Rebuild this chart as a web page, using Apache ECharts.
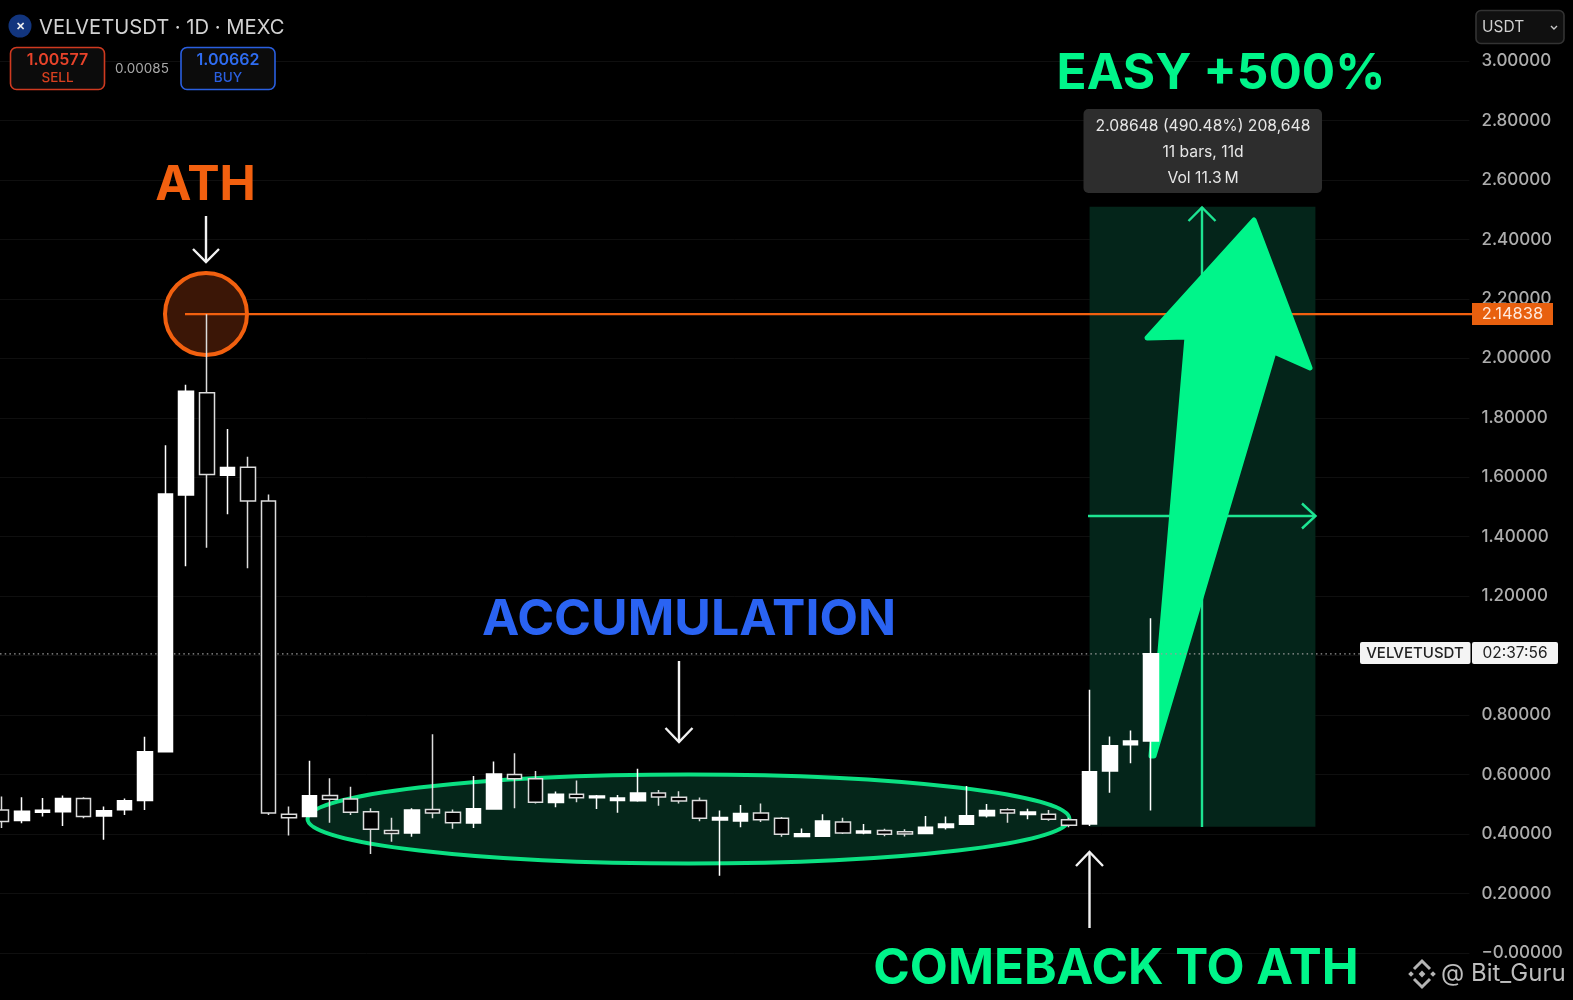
<!DOCTYPE html>
<html>
<head>
<meta charset="utf-8">
<style>html,body{margin:0;padding:0;background:#000;overflow:hidden}#c{width:1573px;height:1000px}</style>
<script src="https://cdn.jsdelivr.net/npm/echarts@6/dist/echarts.min.js"></script>
</head>
<body>
<div id="c"></div>
<script>
var opens  = [.481,.446,.473,.475,.520,.461,.482,.513,.677,1.540,1.884,1.607,1.634,1.520,.467,.459,.530,.518,.475,.412,.404,.483,.473,.437,.484,.600,.586,.506,.534,.522,.513,.512,.538,.524,.513,.447,.444,.471,.453,.392,.393,.441,.404,.412,.408,.402,.422,.433,.462,.482,.466,.467,.448,.434,.612,.700,.713];
var closes = [.442,.477,.480,.520,.459,.478,.512,.677,1.544,1.889,1.609,1.633,1.520,.471,.455,.529,.517,.473,.416,.402,.481,.471,.438,.485,.602,.586,.507,.534,.522,.528,.521,.538,.525,.511,.453,.456,.469,.448,.399,.401,.444,.404,.410,.399,.400,.423,.434,.462,.479,.471,.474,.450,.430,.610,.697,.713,1.0062];
var lows   = [.420,.436,.459,.427,.453,.381,.464,.481,.675,1.301,1.363,1.476,1.294,.464,.395,.458,.438,.464,.333,.374,.391,.453,.418,.420,.484,.487,.503,.490,.507,.484,.472,.509,.495,.503,.443,.260,.423,.441,.391,.391,.391,.400,.399,.393,.392,.400,.415,.433,.456,.438,.450,.445,.423,.427,.539,.638,.479];
var highs  = [.526,.524,.521,.530,.524,.493,.520,.727,1.708,1.911,2.14838,1.762,1.669,1.542,.493,.647,.588,.559,.487,.455,.487,.736,.483,.595,.644,.672,.612,.543,.580,.531,.531,.620,.548,.544,.523,.479,.498,.503,.457,.419,.467,.455,.434,.418,.416,.461,.459,.562,.501,.487,.485,.481,.455,.885,.728,.748,1.126];
var categories = [];
for (var n = 0; n < 72; n++) categories.push('D' + (n + 1));
var tickValues = [0,0.2,0.4,0.6,0.8,1,1.2,1.4,1.6,1.8,2,2.2,2.4,2.6,2.8,3];
var tickLabels = ['\u22120.00000','0.20000','0.40000','0.60000','0.80000','1.00000','1.20000','1.40000','1.60000','1.80000','2.00000','2.20000','2.40000','2.60000','2.80000','3.00000'];
var athPrice = 2.14838;
var lastPrice = 1.0062;
var rangeTop = 2.51, rangeBottom = 0.4248, rangeStart = 53, rangeEnd = 64;

var F = 'Inter, "Liberation Sans", sans-serif';
var GREEN = '#00f58a', LINE = '#1de592', ORANGE = '#f2600f', BLUE = '#2a63f2';
var candles = opens.map(function (o, i) { return [o, closes[i], lows[i], highs[i]]; });

var chart = echarts.init(document.getElementById('c'), null, {renderer: 'canvas'});
chart.setOption({
  backgroundColor: '#000',
  animation: false,
  grid: {left: -8.8, right: 103.6, top: 61, bottom: 47, outerBoundsMode: 'none', containLabel: false},
  xAxis: {type: 'category', data: categories, axisLine: {show: false}, axisTick: {show: false}, axisLabel: {show: false}, splitLine: {show: false}},
  yAxis: {
    type: 'value', position: 'right', min: 0, max: 3, interval: 0.2,
    axisLine: {show: false}, axisTick: {show: false},
    axisLabel: {margin: 12, padding: [4, 0, 0, 0], color: '#adadad', fontFamily: F, fontSize: 17, fontWeight: 500,
      formatter: function (v) { return tickLabels[tickValues.findIndex(function (t) { return Math.abs(t - v) < 1e-6; })]; }},
    splitLine: {lineStyle: {color: '#0f0f0f', width: 1}}
  },
  series: [{
    type: 'candlestick', z: 5, barWidth: 15, data: candles,
    itemStyle: {color: '#ffffff', color0: '#000000', borderColor: '#ffffff', borderColor0: '#dcdcdc', borderWidth: 1.5},
    markArea: {z: 1, silent: true, itemStyle: {color: '#04251a'},
      data: [[{xAxis: categories[rangeStart], yAxis: rangeTop}, {xAxis: categories[rangeEnd], yAxis: rangeBottom}]]}
  }]
});

var Y = function (v) { return chart.convertToPixel({yAxisIndex: 0}, v); };
var yAth = Y(athPrice), yLast = Y(lastPrice);

function txt(x, y, s, size, color, weight, align, z) {
  return {type: 'text', z: z || 20, silent: true, style: {x: x, y: y, text: s, fill: color, fontFamily: F, fontSize: size, fontWeight: weight || 400, align: align || 'center', verticalAlign: 'middle'}};
}
function rect(x, y, w, h, fill, stroke, r, z) {
  return {type: 'rect', z: z || 19, silent: true, shape: {x: x, y: y, width: w, height: h, r: r || 0}, style: {fill: fill, stroke: stroke || null, lineWidth: stroke ? 1.6 : 0}};
}
function pl(points, color, width, z) {
  return {type: 'polyline', z: z || 8, silent: true, shape: {points: points}, style: {stroke: color, lineWidth: width, fill: null, lineJoin: 'miter'}};
}
function diamond(cx, cy, r, fill) {
  return {type: 'polygon', z: 20, silent: true, shape: {points: [[cx, cy - r], [cx + r, cy], [cx, cy + r], [cx - r, cy]]}, style: {fill: fill}};
}
var W = '#f2f2f2';
var gfx = [
  {type: 'ellipse', z: 1, silent: true, shape: {cx: 688.5, cy: 819, rx: 381, ry: 44.5}, style: {fill: '#05261a', stroke: '#0be082', lineWidth: 4}},
  pl([[1202, 207], [1202, 827]], LINE, 2.4, 2),
  pl([[1188.5, 221], [1202, 207.5], [1215.5, 221]], LINE, 2.4, 2),
  pl([[1088, 516], [1315, 516]], LINE, 2.4, 2),
  pl([[1302, 503.5], [1315.5, 516], [1302, 528.5]], LINE, 2.4, 2),
  {type: 'circle', z: 2, silent: true, shape: {cx: 206, cy: 314, r: 41}, style: {fill: '#3b1606', stroke: ORANGE, lineWidth: 4}},
  {type: 'line', z: 2, silent: true, shape: {x1: 185, y1: yAth, x2: 1472, y2: yAth}, style: {stroke: ORANGE, lineWidth: 2.2}},
  {type: 'polygon', z: 3, silent: true, shape: {points: [[1254, 220], [1310, 368], [1274, 352], [1154, 756], [1151, 756], [1187, 337], [1147, 338]]},
    style: {fill: GREEN, stroke: GREEN, lineWidth: 5, lineJoin: 'round'}},
  {type: 'line', z: 4, silent: true, shape: {x1: 0, y1: yLast, x2: 1360, y2: yLast}, style: {stroke: '#9a9a9a', lineWidth: 1.2, lineDash: [1.5, 3.2]}},
  pl([[206, 216], [206, 262]], W, 2.4),
  pl([[193, 249], [206, 262], [219, 249]], W, 2.4),
  pl([[679, 661], [679, 742]], W, 2.4),
  pl([[665.5, 728], [679, 742], [692.5, 728]], W, 2.4),
  pl([[1089.5, 852], [1089.5, 928]], W, 2.4),
  pl([[1076, 866], [1089.5, 852], [1103, 866]], W, 2.4),
  txt(205.5, 185, 'ATH', 48.5, ORANGE, 700),
  txt(1221, 74, 'EASY +500%', 49.5, GREEN, 700),
  txt(689, 620, 'ACCUMULATION', 50, BLUE, 700),
  txt(1116, 969, 'COMEBACK TO ATH', 49.4, GREEN, 700),
  {type: 'circle', z: 19, silent: true, shape: {cx: 20, cy: 26, r: 11.5}, style: {fill: '#12357e'}},
  txt(20.5, 26.5, '\u2715', 11, '#f0f0f0', 700),
  txt(39, 27.5, 'VELVETUSDT \u00b7 1D \u00b7 MEXC', 20.2, '#d2d2d2', 400, 'left'),
  rect(10.5, 47.5, 94, 42, '#0c0c0c', '#cf3a20', 6),
  txt(57.5, 60.5, '1.00577', 16, '#e8432a', 600),
  txt(57.5, 78, 'SELL', 13.5, '#d8401f', 500),
  txt(142, 69, '0.00085', 13.5, '#a8a8a8'),
  rect(181, 47.5, 94, 42, '#0c0c0c', '#2a5fe0', 6),
  txt(228, 60.5, '1.00662', 16, '#2f6cf0', 600),
  txt(228, 78, 'BUY', 13.5, '#2a5fe0', 500),
  rect(1476, 10.5, 88, 33, '#101010', '#333333', 5),
  txt(1482, 27.5, 'USDT', 15.5, '#d0d0d0', 400, 'left'),
  pl([[1551, 26], [1554, 29], [1557, 26]], '#c8c8c8', 1.4, 20),
  rect(1083.5, 109, 238.5, 84, '#2d2d2d', null, 5),
  txt(1203, 126.5, '2.08648 (490.48%) 208,648', 15.7, '#e6e6e6'),
  txt(1203, 152.5, '11 bars, 11d', 15.7, '#e6e6e6'),
  txt(1203, 178.5, 'Vol 11.3\u2009M', 15.7, '#e6e6e6'),
  rect(1472, 303, 81, 22, '#e8600f'),
  txt(1512.5, 314.5, athPrice.toFixed(5), 16.5, '#ffe9dc'),
  rect(1360, 642, 110.5, 22, '#f4f4f4', null, 2),
  txt(1415, 653.5, 'VELVETUSDT', 15, '#222222', 500),
  rect(1472, 642, 86, 22, '#f4f4f4', null, 2),
  txt(1515, 653.5, '02:37:56', 15.5, '#222222', 400),
  diamond(1422, 974, 3.4, '#b4b4b4'),
  diamond(1411, 974, 2.8, '#b4b4b4'),
  diamond(1433, 974, 2.8, '#b4b4b4'),
  pl([[1414, 969], [1422, 961], [1430, 969]], '#b4b4b4', 3, 20),
  pl([[1414, 979], [1422, 987], [1430, 979]], '#b4b4b4', 3, 20),
  txt(1441, 974, '@ Bit_Guru', 24, '#bdbdbd', 400, 'left')
];
chart.setOption({graphic: {elements: gfx}});
</script>
</body>
</html>
